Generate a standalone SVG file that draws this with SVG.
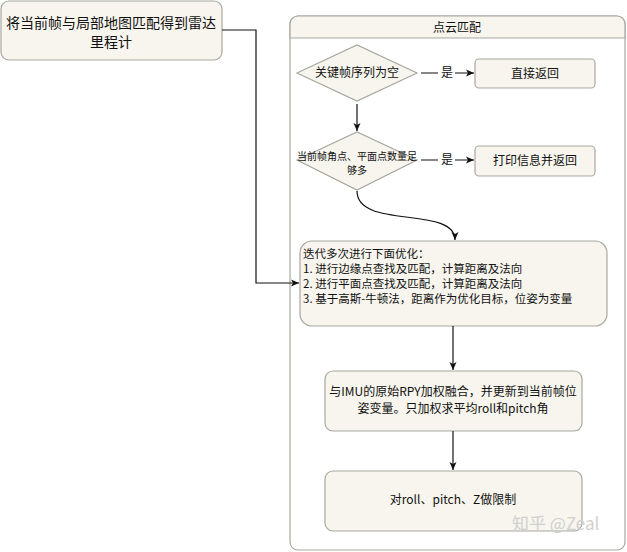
<svg xmlns="http://www.w3.org/2000/svg" width="627" height="552" viewBox="0 0 627 552">
<style>
.n{fill:#f7f5ed;stroke:#a8a8a0;stroke-width:1.2}
text{font-family:"Noto Sans CJK SC","Liberation Sans",sans-serif;font-size:12px;fill:#111}
text.big{font-size:14px}
text.sm{font-size:10px}
text.m{font-size:11.5px}
text.wm{font-size:17px;fill:#d0d0d0}
.c{fill:none;stroke:#111;stroke-width:1.2}
</style>
<defs><marker id="a" markerWidth="10" markerHeight="10" refX="9" refY="5" orient="auto" markerUnits="userSpaceOnUse"><path d="M1,1.5 L9,5 L1,8.5 L3,5z" fill="#111"/></marker></defs>
<rect width="627" height="552" fill="#fff"/>
<g id="left"><rect class="n" x="1" y="1" width="221" height="59" rx="8"/><text class="big" x="111" y="28" text-anchor="middle">将当前帧与局部地图匹配得到雷达</text><text class="big" x="111" y="47" text-anchor="middle">里程计</text></g>
<g id="container"><rect x="290" y="16" width="335" height="534" rx="8" fill="#fff" stroke="#a8a8a0" stroke-width="1.2"/><path d="M290,38 V24 a8,8 0 0 1 8,-8 H617 a8,8 0 0 1 8,8 V38 Z" fill="#f7f5ed" stroke="#a8a8a0" stroke-width="1.2"/><text x="457" y="32" text-anchor="middle">点云匹配</text></g>
<g id="d1"><polygon class="n" points="297,73 357,45 417,73 357,101"/><text x="357" y="77" text-anchor="middle">关键帧序列为空</text></g>
<g id="b1"><rect class="n" x="475" y="59" width="120" height="29" rx="4"/><text x="535" y="78" text-anchor="middle">直接返回</text></g>
<g id="d2"><polygon class="n" points="297,160 357,132 417,160 357,190"/><text class="sm" x="357" y="160" text-anchor="middle">当前帧角点、平面点数量足</text><text class="sm" x="357" y="174" text-anchor="middle">够多</text></g>
<g id="b2"><rect class="n" x="475" y="146" width="120" height="30" rx="4"/><text x="535" y="165" text-anchor="middle">打印信息并返回</text></g>
<g id="b3"><rect class="n" x="300" y="241" width="307" height="85" rx="12"/><text class="m" x="303" y="258">迭代多次进行下面优化：</text><text class="m" x="303" y="273">1. 进行边缘点查找及匹配，计算距离及法向</text><text class="m" x="303" y="288">2. 进行平面点查找及匹配，计算距离及法向</text><text class="m" x="303" y="303">3. 基于高斯-牛顿法，距离作为优化目标，位姿为变量</text></g>
<g id="b4"><rect class="n" x="325" y="371" width="257" height="60" rx="8"/><text x="453" y="396" text-anchor="middle">与IMU的原始RPY加权融合，并更新到当前帧位</text><text x="453" y="413" text-anchor="middle">姿变量。只加权求平均roll和pitch角</text></g>
<g id="b5"><rect class="n" x="325" y="471" width="257" height="60" rx="8"/><text x="453" y="504" text-anchor="middle">对roll、pitch、Z做限制</text></g>
<g id="connectors">
<path class="c" d="M222,30 H256 V283 H299" marker-end="url(#a)"/>
<path class="c" d="M421,73 H438 M455,73 H474" marker-end="url(#a)"/>
<text x="447" y="77" text-anchor="middle">是</text>
<path class="c" d="M421,160 H438 M455,160 H474" marker-end="url(#a)"/>
<text x="447" y="164" text-anchor="middle">是</text>
<path class="c" d="M357,104 V131" marker-end="url(#a)"/>
<path class="c" d="M357,191 C357,230 455,205 455,240" marker-end="url(#a)"/>
<path class="c" d="M453,326 V370" marker-end="url(#a)"/>
<path class="c" d="M453,431 V470" marker-end="url(#a)"/>
</g>
<text class="wm" x="512" y="530">知乎 @Zeal</text>
</svg>
